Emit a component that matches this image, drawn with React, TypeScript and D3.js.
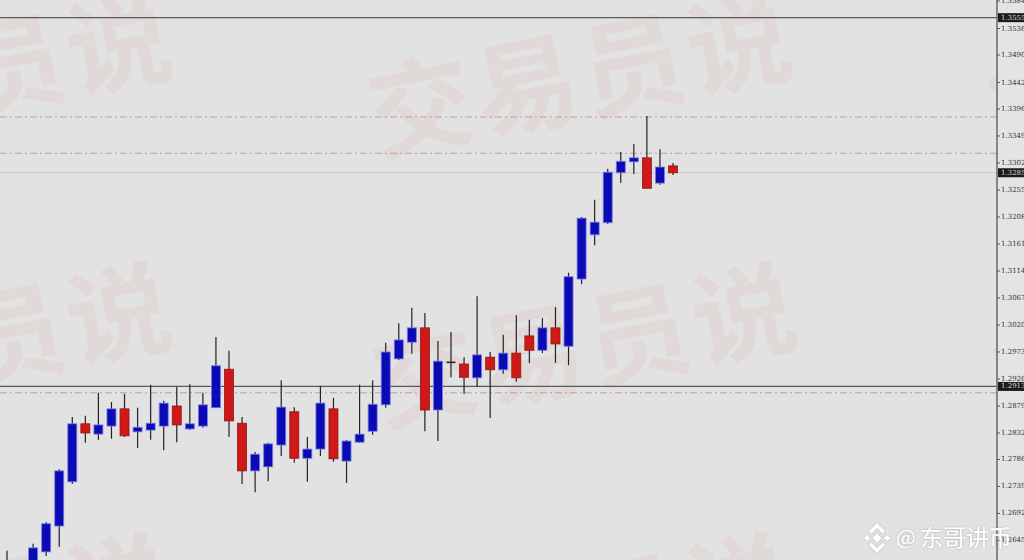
import React from "react";
import * as d3 from "d3";

// OHLC candles (open, high, low, close)
const opens = [1.2559,1.2567,1.2590,1.2625,1.2670,1.2747,1.2848,1.2830,1.2844,1.2874,1.2834,1.2837,1.2844,1.2879,1.2839,1.2844,1.2876,1.2943,1.2849,1.2766,1.2773,1.2811,1.2869,1.2788,1.2804,1.2874,1.2783,1.2816,1.2835,1.2881,1.2961,1.2990,1.3015,1.2872,1.2955,1.2952,1.2928,1.2964,1.2942,1.2971,1.3001,1.2976,1.3015,1.2983,1.3100,1.3177,1.3198,1.3285,1.3304,1.3311,1.3267,1.3297];
const highs = [1.2627,1.2607,1.2639,1.2677,1.2769,1.2860,1.2862,1.2902,1.2886,1.2900,1.2876,1.2916,1.2888,1.2912,1.2917,1.2902,1.2999,1.2975,1.2860,1.2799,1.2815,1.2924,1.2877,1.2825,1.2914,1.2893,1.2820,1.2916,1.2924,1.2989,1.3023,1.3050,1.3041,1.2992,1.3008,1.2964,1.3070,1.2973,1.3003,1.3037,1.3029,1.3032,1.3051,1.3111,1.3208,1.3238,1.3292,1.3321,1.3335,1.3384,1.3326,1.3302];
const lows = [1.2541,1.2550,1.2580,1.2618,1.2634,1.2743,1.2815,1.2820,1.2822,1.2825,1.2806,1.2820,1.2802,1.2816,1.2837,1.2841,1.2876,1.2825,1.2743,1.2729,1.2748,1.2792,1.2780,1.2747,1.2792,1.2782,1.2745,1.2815,1.2829,1.2876,1.2959,1.2970,1.2835,1.2818,1.2929,1.2900,1.2912,1.2858,1.2935,1.2921,1.2954,1.2971,1.2954,1.2950,1.3091,1.3159,1.3196,1.3267,1.3283,1.3258,1.3264,1.3281];
const closes = [1.2602,1.2607,1.2632,1.2674,1.2766,1.2848,1.2832,1.2846,1.2874,1.2827,1.2842,1.2849,1.2884,1.2846,1.2848,1.2881,1.2949,1.2853,1.2766,1.2795,1.2813,1.2877,1.2788,1.2804,1.2884,1.2787,1.2818,1.2830,1.2882,1.2973,1.2994,1.3015,1.2872,1.2957,1.2955,1.2929,1.2968,1.2942,1.2971,1.2928,1.2976,1.3015,1.2987,1.3104,1.3206,1.3199,1.3286,1.3305,1.3311,1.3258,1.3295,1.3285];

const tickValues = [1.3584,1.3536,1.3490,1.3442,1.3396,1.3349,1.3302,1.3255,1.3208,1.3161,1.3114,1.3067,1.3020,1.2973,1.2926,1.2879,1.2832,1.2786,1.2739,1.2692,1.2645];
const solidLevels = [1.3555, 1.2913];
const dashedLevels = [1.3382, 1.3319, 1.2902];
const currentPrice = 1.3285;
const watermarkText = "交易员说";
const watermarkCenters: [number, number][] = [[-40, 68], [580, 68], [1200, 68], [-40, 338], [585, 338], [1205, 338], [-40, 608], [580, 608]];
const brandAt = "@";
const brandName = "东哥讲币";

const W = 1024;
const H = 560;
const axisX = 997;

export default function App() {
  const x = d3.scaleLinear().domain([0, opens.length - 1]).range([7, 673]);
  const y = d3.scaleLinear().domain([1.2645, 1.3584]).range([540.4, 1.0]);
  const bw = 9;
  const fmt = d3.format(".4f");
  const boxes = [...solidLevels, currentPrice];

  return (
    <svg width={W} height={H} style={{ position: "fixed", left: 0, top: 0, display: "block" }}
      xmlns="http://www.w3.org/2000/svg">
      <defs>
        <filter id="sh" x="-10%" y="-10%" width="120%" height="130%">
          <feDropShadow dx="0" dy="0" stdDeviation="0.8" floodColor="#888" floodOpacity="0.6" />
        </filter>
      </defs>
      <rect x={0} y={0} width={W} height={H} fill="#e2e2e2" />
      {/* watermark */}
      <g fill="rgba(215,130,130,0.10)" fontFamily="'Noto Sans CJK SC'" fontWeight={700} fontSize={104}>
        {watermarkCenters.map(([cx, cy], i) => (
          <text key={i} x={cx} y={cy} textAnchor="middle" dominantBaseline="central"
            transform={`rotate(-11 ${cx} ${cy})`} letterSpacing={4}>{watermarkText}</text>
        ))}
      </g>
      {/* current price line */}
      <line x1={0} x2={axisX} y1={y(currentPrice)} y2={y(currentPrice)} stroke="#cbcbcb" strokeWidth={1} />
      {/* dashed levels */}
      {dashedLevels.map((v, i) => (
        <line key={i} x1={0} x2={axisX} y1={y(v)} y2={y(v)} stroke="#c99a9a" strokeWidth={1}
          strokeDasharray="7 3 2 3" />
      ))}
      {/* solid levels */}
      {solidLevels.map((v, i) => (
        <line key={i} x1={0} x2={axisX} y1={y(v)} y2={y(v)} stroke="#5a5a5a" strokeWidth={1.3} />
      ))}
      {/* candles */}
      {opens.map((o, i) => {
        const c = closes[i];
        const up = c > o;
        const doji = Math.abs(c - o) < 0.00005;
        const cx = x(i);
        const top = y(Math.max(o, c));
        const bot = y(Math.min(o, c));
        return (
          <g key={i}>
            <line x1={cx} x2={cx} y1={y(highs[i])} y2={y(lows[i])} stroke="#222" strokeWidth={1.2} />
            {doji ? (
              <line x1={cx - bw / 2} x2={cx + bw / 2} y1={top} y2={top} stroke="#222" strokeWidth={1.5} />
            ) : (
              <rect x={cx - bw / 2} y={top} width={bw} height={Math.max(1, bot - top)}
                fill={up ? "#0b0bb4" : "#d01818"} stroke={up ? "#7a7af0" : "#8a1a1a"}
                strokeWidth={0.8} />
            )}
          </g>
        );
      })}
      {/* axis */}
      <rect x={axisX} y={0} width={W - axisX} height={H} fill="#e4e4e4" />
      <line x1={axisX} x2={axisX} y1={0} y2={H} stroke="#6e6e6e" strokeWidth={1.6} />
      <g fontFamily="'DejaVu Serif', serif" fontSize={7} fill="#333">
        {tickValues.map((v, i) => (
          <g key={i}>
            <line x1={axisX} x2={axisX + 3} y1={y(v)} y2={y(v)} stroke="#555" strokeWidth={1} />
            <text x={axisX + 4} y={y(v)} dominantBaseline="central">{fmt(v)}</text>
          </g>
        ))}
      </g>
      {boxes.map((v, i) => (
        <g key={i}>
          <rect x={axisX + 1} y={y(v) - 4.5} width={W - axisX} height={9} fill="#1c1c1c" />
          <text x={axisX + 4} y={y(v)} dominantBaseline="central" fontFamily="'DejaVu Serif', serif"
            fontSize={7} fill="#d8d8d8">{fmt(v)}</text>
        </g>
      ))}
      {/* brand */}
      <g filter="url(#sh)">
        <g transform="translate(877,538)" fill="#ffffff">
          <rect x={-3.2} y={-3.2} width={6.4} height={6.4} transform="rotate(45)" />
          <rect x={-2.2} y={-2.2} width={4.4} height={4.4} transform="translate(-10,0) rotate(45)" />
          <rect x={-2.2} y={-2.2} width={4.4} height={4.4} transform="translate(10,0) rotate(45)" />
          <path d="M0,-15 L8,-7 L5.5,-4.5 L0,-10 L-5.5,-4.5 L-8,-7 Z" />
          <path d="M0,15 L8,7 L5.5,4.5 L0,10 L-5.5,4.5 L-8,7 Z" />
        </g>
        <text x={896} y={545} fontFamily="'Noto Sans CJK SC'" fontSize={21} fill="#ffffff">{brandAt}</text>
        <text x={920} y={546} fontFamily="'Noto Sans CJK SC'" fontSize={23} fill="#ffffff">{brandName}</text>
      </g>
    </svg>
  );
}
